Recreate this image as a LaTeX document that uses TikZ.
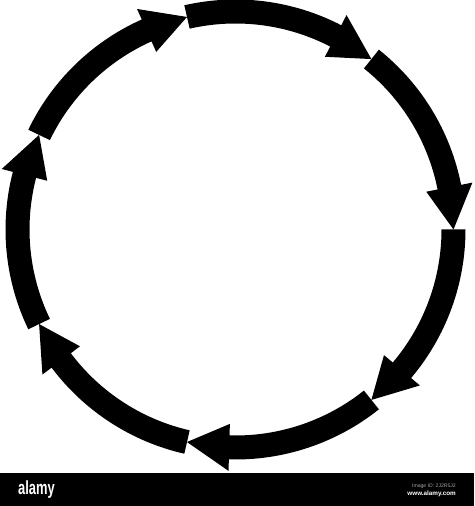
\documentclass[tikz,border=0pt]{standalone}
\usepackage{fontspec}
\usepackage{graphicx}
\setmainfont{Liberation Sans}
\begin{document}
\begin{tikzpicture}[x=1pt,y=1pt,
  arrowshape/.style={fill=black},
  barstyle/.style={fill=black},
  logotext/.style={text=white,inner sep=0pt,font=\bfseries\fontsize{19}{19}\selectfont},
  urltext/.style={text=white,inner sep=0pt,font=\bfseries\fontsize{6.3}{7}\selectfont},
  idtext/.style={text=black!35,inner sep=0pt,font=\fontsize{5.1}{6}\selectfont}]
\useasboundingbox (0,0) rectangle (474,506);
\fill[white] (0,0) rectangle (474,506);
\def\R{218}
\pgfmathsetmacro\ro{\R+12}
\pgfmathsetmacro\ri{\R-12}
\pgfmathsetmacro\rho{\R+23.5}
\pgfmathsetmacro\rhi{\R-23.5}
\begin{scope}[shift={(235.5,276.5)}]
\foreach \k in {0,...,6}{
  \pgfmathsetmacro\t{102.857-\k*51.4286}
  \pgfmathsetmacro\p{\t-51.4286}
  \pgfmathsetmacro\b{\p+11.2}
  \fill[arrowshape] (\t:\ro) arc[start angle=\t, end angle=\b, radius=\ro]
     -- (\b:\rho) -- (\p:\R) -- (\b:\rhi) -- (\b:\ri)
     arc[start angle=\b, end angle=\t, radius=\ri] -- cycle;
}
\end{scope}
\fill[barstyle] (0,0) rectangle (474,33);
\node[logotext,anchor=base west] (logo) at (18,11) {\scalebox{0.68}[1]{alamy}};
\node[idtext,anchor=base east] (imgid) at (456,19) {Image ID: 2J2R5J2};
\node[urltext,anchor=base east] (url) at (456,10) {www.alamy.com};
\end{tikzpicture}
\end{document}
